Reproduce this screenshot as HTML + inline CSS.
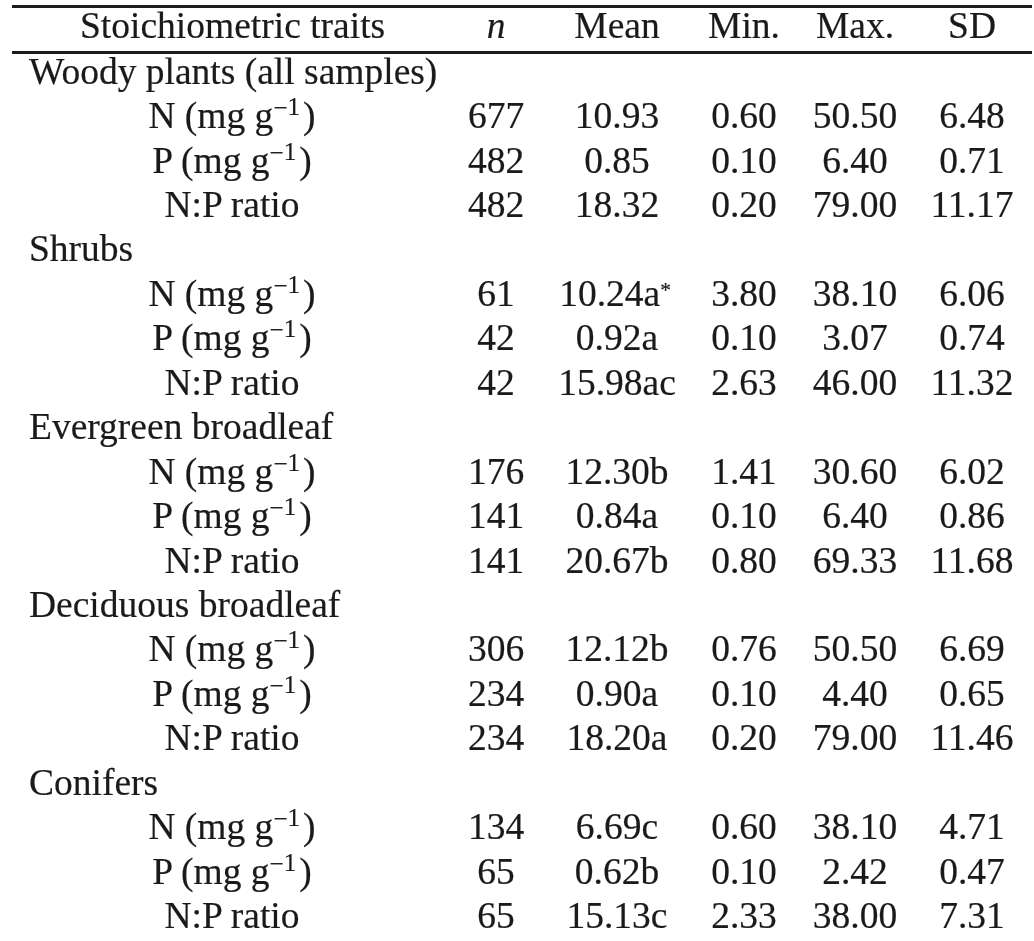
<!DOCTYPE html>
<html><head><meta charset="utf-8"><style>
html,body{margin:0;padding:0;background:#fff;}
body{width:1034px;height:941px;position:relative;overflow:hidden;font-family:"Liberation Serif",serif;color:#1a1a1a;}
.c,.l{position:absolute;will-change:transform;-webkit-text-stroke:0.2px #1a1a1a;font-size:37.5px;line-height:50px;white-space:nowrap;}
.c{width:300px;text-align:center;}
span.mn{position:relative;top:1.5px;}
sup.ast{font-size:0.57em;top:-0.4em;margin-right:4px;}
sup{font-size:0.67em;vertical-align:baseline;position:relative;top:-0.53em;line-height:0;margin-right:3px;}
.rule{position:absolute;background:#1b1b1b;left:12px;width:1020px;}
</style></head><body>
<div class="rule" style="top:5px;height:3px"></div>
<div class="rule" style="top:51px;height:3px"></div>
<div class="c" style="left:79.50px;top:0.64px">Stoichiometric traits</div>
<div class="c" style="left:346.00px;top:0.64px"><i>n</i></div>
<div class="c" style="left:467.00px;top:0.64px">Mean</div>
<div class="c" style="left:594.00px;top:0.64px">Min.</div>
<div class="c" style="left:705.00px;top:0.64px">Max.</div>
<div class="c" style="left:822.00px;top:0.64px">SD</div>
<div class="l" style="left:29.00px;top:46.64px">Woody plants (all samples)</div>
<div class="c" style="left:82.00px;top:91.09px">N (mg g<sup><span class="mn">&minus;</span>1</sup>)</div>
<div class="c" style="left:346.00px;top:91.09px">677</div>
<div class="c" style="left:467.00px;top:91.09px">10.93</div>
<div class="c" style="left:594.00px;top:91.09px">0.60</div>
<div class="c" style="left:705.00px;top:91.09px">50.50</div>
<div class="c" style="left:822.00px;top:91.09px">6.48</div>
<div class="c" style="left:82.00px;top:135.54px">P (mg g<sup><span class="mn">&minus;</span>1</sup>)</div>
<div class="c" style="left:346.00px;top:135.54px">482</div>
<div class="c" style="left:467.00px;top:135.54px">0.85</div>
<div class="c" style="left:594.00px;top:135.54px">0.10</div>
<div class="c" style="left:705.00px;top:135.54px">6.40</div>
<div class="c" style="left:822.00px;top:135.54px">0.71</div>
<div class="c" style="left:82.00px;top:179.99px">N:P ratio</div>
<div class="c" style="left:346.00px;top:179.99px">482</div>
<div class="c" style="left:467.00px;top:179.99px">18.32</div>
<div class="c" style="left:594.00px;top:179.99px">0.20</div>
<div class="c" style="left:705.00px;top:179.99px">79.00</div>
<div class="c" style="left:822.00px;top:179.99px">11.17</div>
<div class="l" style="left:29.00px;top:224.44px">Shrubs</div>
<div class="c" style="left:82.00px;top:268.89px">N (mg g<sup><span class="mn">&minus;</span>1</sup>)</div>
<div class="c" style="left:346.00px;top:268.89px">61</div>
<div class="c" style="left:467.00px;top:268.89px">10.24a<sup class="ast">*</sup></div>
<div class="c" style="left:594.00px;top:268.89px">3.80</div>
<div class="c" style="left:705.00px;top:268.89px">38.10</div>
<div class="c" style="left:822.00px;top:268.89px">6.06</div>
<div class="c" style="left:82.00px;top:313.34px">P (mg g<sup><span class="mn">&minus;</span>1</sup>)</div>
<div class="c" style="left:346.00px;top:313.34px">42</div>
<div class="c" style="left:467.00px;top:313.34px">0.92a</div>
<div class="c" style="left:594.00px;top:313.34px">0.10</div>
<div class="c" style="left:705.00px;top:313.34px">3.07</div>
<div class="c" style="left:822.00px;top:313.34px">0.74</div>
<div class="c" style="left:82.00px;top:357.79px">N:P ratio</div>
<div class="c" style="left:346.00px;top:357.79px">42</div>
<div class="c" style="left:467.00px;top:357.79px">15.98ac</div>
<div class="c" style="left:594.00px;top:357.79px">2.63</div>
<div class="c" style="left:705.00px;top:357.79px">46.00</div>
<div class="c" style="left:822.00px;top:357.79px">11.32</div>
<div class="l" style="left:29.00px;top:402.24px">Evergreen broadleaf</div>
<div class="c" style="left:82.00px;top:446.69px">N (mg g<sup><span class="mn">&minus;</span>1</sup>)</div>
<div class="c" style="left:346.00px;top:446.69px">176</div>
<div class="c" style="left:467.00px;top:446.69px">12.30b</div>
<div class="c" style="left:594.00px;top:446.69px">1.41</div>
<div class="c" style="left:705.00px;top:446.69px">30.60</div>
<div class="c" style="left:822.00px;top:446.69px">6.02</div>
<div class="c" style="left:82.00px;top:491.14px">P (mg g<sup><span class="mn">&minus;</span>1</sup>)</div>
<div class="c" style="left:346.00px;top:491.14px">141</div>
<div class="c" style="left:467.00px;top:491.14px">0.84a</div>
<div class="c" style="left:594.00px;top:491.14px">0.10</div>
<div class="c" style="left:705.00px;top:491.14px">6.40</div>
<div class="c" style="left:822.00px;top:491.14px">0.86</div>
<div class="c" style="left:82.00px;top:535.59px">N:P ratio</div>
<div class="c" style="left:346.00px;top:535.59px">141</div>
<div class="c" style="left:467.00px;top:535.59px">20.67b</div>
<div class="c" style="left:594.00px;top:535.59px">0.80</div>
<div class="c" style="left:705.00px;top:535.59px">69.33</div>
<div class="c" style="left:822.00px;top:535.59px">11.68</div>
<div class="l" style="left:29.00px;top:580.04px">Deciduous broadleaf</div>
<div class="c" style="left:82.00px;top:624.49px">N (mg g<sup><span class="mn">&minus;</span>1</sup>)</div>
<div class="c" style="left:346.00px;top:624.49px">306</div>
<div class="c" style="left:467.00px;top:624.49px">12.12b</div>
<div class="c" style="left:594.00px;top:624.49px">0.76</div>
<div class="c" style="left:705.00px;top:624.49px">50.50</div>
<div class="c" style="left:822.00px;top:624.49px">6.69</div>
<div class="c" style="left:82.00px;top:668.94px">P (mg g<sup><span class="mn">&minus;</span>1</sup>)</div>
<div class="c" style="left:346.00px;top:668.94px">234</div>
<div class="c" style="left:467.00px;top:668.94px">0.90a</div>
<div class="c" style="left:594.00px;top:668.94px">0.10</div>
<div class="c" style="left:705.00px;top:668.94px">4.40</div>
<div class="c" style="left:822.00px;top:668.94px">0.65</div>
<div class="c" style="left:82.00px;top:713.39px">N:P ratio</div>
<div class="c" style="left:346.00px;top:713.39px">234</div>
<div class="c" style="left:467.00px;top:713.39px">18.20a</div>
<div class="c" style="left:594.00px;top:713.39px">0.20</div>
<div class="c" style="left:705.00px;top:713.39px">79.00</div>
<div class="c" style="left:822.00px;top:713.39px">11.46</div>
<div class="l" style="left:29.00px;top:757.84px">Conifers</div>
<div class="c" style="left:82.00px;top:802.29px">N (mg g<sup><span class="mn">&minus;</span>1</sup>)</div>
<div class="c" style="left:346.00px;top:802.29px">134</div>
<div class="c" style="left:467.00px;top:802.29px">6.69c</div>
<div class="c" style="left:594.00px;top:802.29px">0.60</div>
<div class="c" style="left:705.00px;top:802.29px">38.10</div>
<div class="c" style="left:822.00px;top:802.29px">4.71</div>
<div class="c" style="left:82.00px;top:846.74px">P (mg g<sup><span class="mn">&minus;</span>1</sup>)</div>
<div class="c" style="left:346.00px;top:846.74px">65</div>
<div class="c" style="left:467.00px;top:846.74px">0.62b</div>
<div class="c" style="left:594.00px;top:846.74px">0.10</div>
<div class="c" style="left:705.00px;top:846.74px">2.42</div>
<div class="c" style="left:822.00px;top:846.74px">0.47</div>
<div class="c" style="left:82.00px;top:891.19px">N:P ratio</div>
<div class="c" style="left:346.00px;top:891.19px">65</div>
<div class="c" style="left:467.00px;top:891.19px">15.13c</div>
<div class="c" style="left:594.00px;top:891.19px">2.33</div>
<div class="c" style="left:705.00px;top:891.19px">38.00</div>
<div class="c" style="left:822.00px;top:891.19px">7.31</div>
</body></html>
